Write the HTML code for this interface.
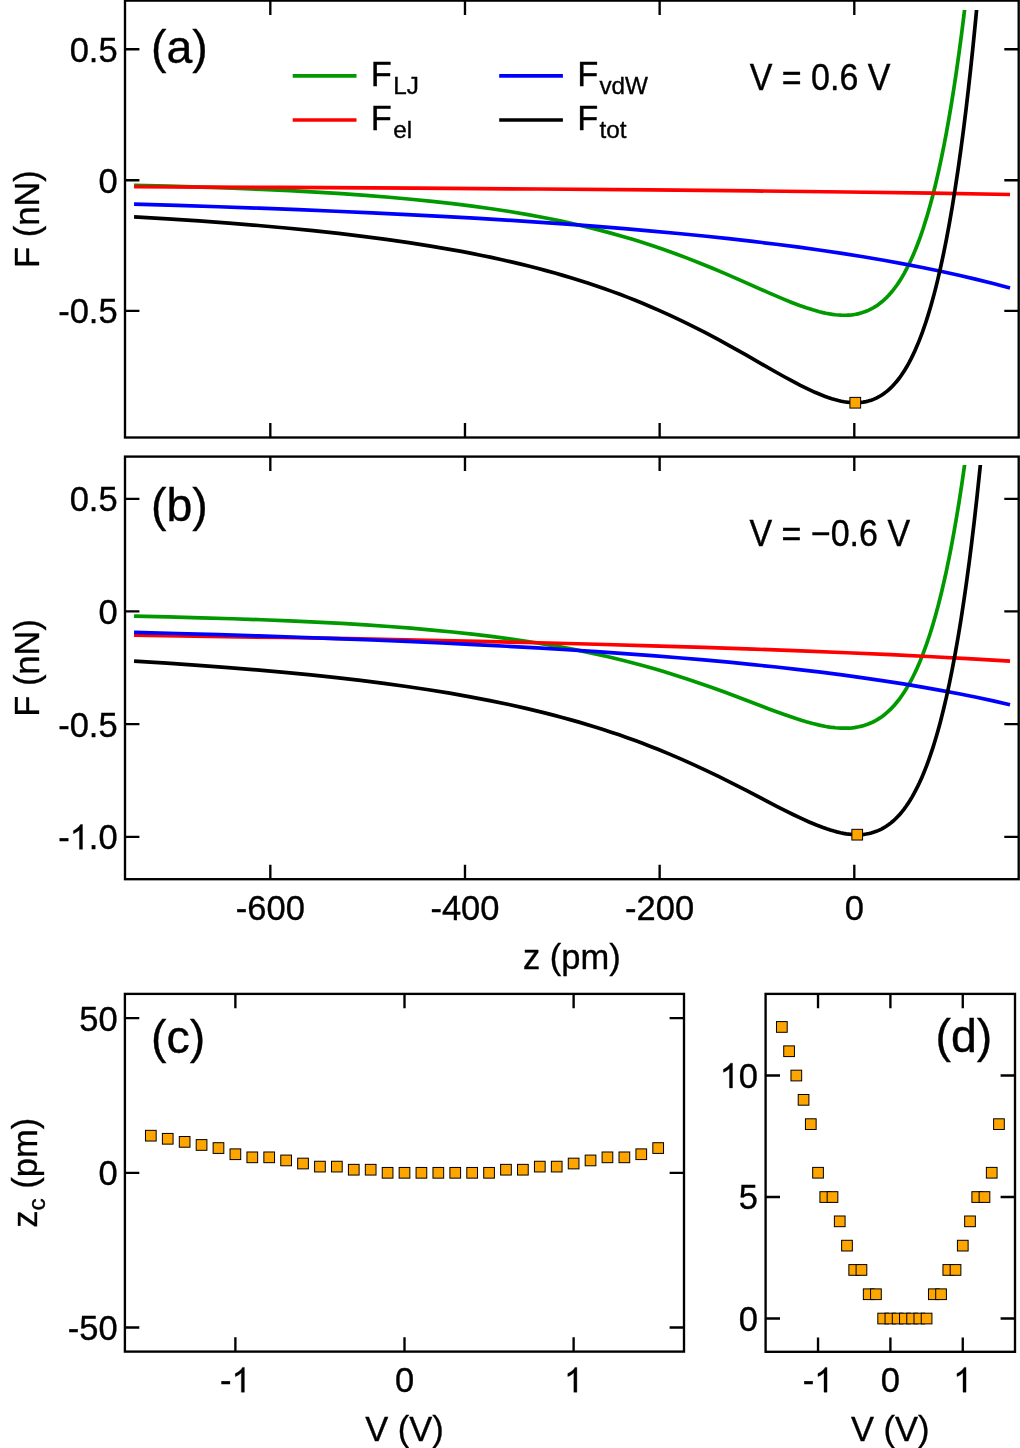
<!DOCTYPE html>
<html><head><meta charset="utf-8"><style>
html,body{margin:0;padding:0;background:#fff;}
svg{display:block;will-change:transform;}
text{font-family:"Liberation Sans", sans-serif;fill:#000;stroke:#000;stroke-width:0.35px;}
</style></head><body>
<svg width="1020" height="1448" viewBox="0 0 1020 1448">
<rect width="1020" height="1448" fill="#fff"/>
<defs>
<clipPath id="ca"><rect x="0" y="9.96" width="1020" height="500"/></clipPath>
<clipPath id="cb"><rect x="0" y="465.08" width="1020" height="500"/></clipPath>
</defs>
<path d="M134.06 185.25 168.40 186.13 201.27 187.11 232.69 188.22 261.91 189.41 289.67 190.72 315.97 192.14 341.54 193.71 365.65 195.40 389.03 197.26 410.95 199.22 432.14 201.35 452.59 203.65 472.32 206.11 491.31 208.74 509.58 211.54 527.84 214.63 544.65 217.75 561.45 221.15 577.52 224.71 592.86 228.39 608.21 232.37 623.55 236.67 631.59 239.05 638.89 241.29 653.50 246.02 664.46 249.77 676.15 253.97 687.84 258.37 699.53 262.96 711.95 268.04 725.83 273.92 738.98 279.65 768.94 292.89 783.55 299.12 792.31 302.66 799.62 305.43 806.20 307.75 812.77 309.85 819.35 311.69 823.00 312.58 825.92 313.22 829.57 313.91 832.50 314.37 835.42 314.74 838.34 315.01 841.26 315.19 844.19 315.25 847.11 315.20 849.30 315.07 852.22 314.79 854.41 314.48 856.61 314.09 858.80 313.61 861.72 312.82 863.91 312.11 866.10 311.30 868.29 310.37 871.22 308.95 873.41 307.75 875.60 306.41 877.79 304.93 879.98 303.30 882.18 301.53 884.37 299.59 886.56 297.49 888.75 295.21 890.94 292.75 893.13 290.10 894.60 288.22 896.79 285.22 898.25 283.10 900.44 279.73 901.90 277.35 904.09 273.58 905.55 270.93 907.75 266.72 909.21 263.77 911.40 259.09 912.86 255.81 915.05 250.63 916.51 247.00 918.71 241.28 920.17 237.27 923.09 228.77 926.74 217.18 929.66 207.08 932.59 196.21 935.51 184.51 938.43 171.93 941.35 158.41 944.28 143.90 946.47 132.32 949.39 115.92 951.58 102.85 953.77 89.08 955.96 74.60 958.89 54.10 961.81 32.17 964.73 8.72 967.65 -16.34 968.38 -17.05" stroke="#009900" stroke-width="3.7" fill="none" clip-path="url(#ca)"/>
<path d="M134.06 186.75 281.64 187.44 416.06 188.19 538.80 189.01 651.31 189.92 753.59 190.91 847.11 192.00 932.59 193.20 1010.03 194.50" stroke="#ff0000" stroke-width="3.7" fill="none" clip-path="url(#ca)"/>
<path d="M134.06 204.06 177.16 205.37 218.81 206.74 258.99 208.18 298.44 209.69 335.70 211.24 372.23 212.88 407.30 214.57 441.63 216.36 474.51 218.20 506.66 220.14 537.34 222.13 567.29 224.22 596.52 226.41 624.28 228.64 652.04 231.04 678.34 233.48 703.91 236.01 728.75 238.65 752.86 241.40 776.24 244.25 798.89 247.20 820.81 250.25 841.99 253.40 863.18 256.77 883.64 260.25 903.36 263.82 922.36 267.50 940.62 271.27 958.89 275.28 976.42 279.38 993.22 283.57 1010.03 288.03" stroke="#0000ff" stroke-width="3.7" fill="none" clip-path="url(#ca)"/>
<path d="M134.06 216.85 167.66 218.87 199.08 220.96 229.03 223.15 258.26 225.52 286.02 227.99 313.05 230.66 338.62 233.43 362.73 236.30 386.11 239.36 408.76 242.61 430.68 246.05 451.13 249.56 461.36 251.43 471.59 253.39 481.82 255.44 491.31 257.42 500.81 259.49 510.31 261.64 519.81 263.89 528.57 266.05 537.34 268.29 546.11 270.63 554.87 273.06 562.91 275.37 571.68 277.98 579.71 280.47 587.75 283.06 595.79 285.73 603.82 288.50 611.86 291.37 619.90 294.34 627.20 297.14 635.24 300.31 642.54 303.29 650.58 306.67 657.89 309.84 669.58 315.11 681.27 320.62 692.95 326.36 705.37 332.71 718.53 339.69 732.41 347.32 745.56 354.73 776.24 372.25 784.28 376.75 791.58 380.73 800.35 385.33 807.66 388.95 814.96 392.32 821.54 395.08 825.19 396.48 828.11 397.52 831.77 398.72 834.69 399.59 838.34 400.55 841.26 401.21 844.19 401.76 847.11 402.19 850.03 402.51 852.95 402.69 855.87 402.73 858.07 402.66 860.99 402.43 863.18 402.14 866.10 401.60 868.29 401.07 871.22 400.18 873.41 399.37 876.33 398.09 878.52 396.98 881.45 395.26 883.64 393.79 885.83 392.16 888.02 390.36 890.21 388.39 892.40 386.22 894.60 383.86 896.79 381.29 898.98 378.51 901.17 375.50 903.36 372.25 904.82 369.95 907.02 366.28 909.21 362.35 911.40 358.13 912.86 355.15 915.05 350.43 916.51 347.10 918.71 341.84 920.17 338.14 922.36 332.30 923.82 328.19 926.01 321.72 927.47 317.18 929.66 310.02 931.12 305.00 934.05 294.37 936.24 285.84 937.70 279.88 940.62 267.27 943.54 253.68 946.47 239.06 949.39 223.34 952.31 206.45 955.23 188.32 958.16 168.87 961.08 148.02 963.27 131.41 966.19 107.90 968.38 89.18 970.58 69.48 972.77 48.77 975.69 19.48 978.61 -11.83 979.34 -17.05" stroke="#000000" stroke-width="3.7" fill="none" clip-path="url(#ca)"/>
<rect x="849.92" y="397.38" width="10.7" height="10.7" fill="#ffa500" stroke="#000" stroke-width="1.0"/>
<path d="M134.06 616.17 168.40 616.92 201.27 617.78 232.69 618.73 261.91 619.75 289.67 620.88 315.97 622.10 341.54 623.46 365.65 624.92 389.03 626.52 410.95 628.21 432.14 630.05 452.59 632.03 472.32 634.15 491.31 636.42 509.58 638.83 527.84 641.49 544.65 644.18 561.45 647.12 577.52 650.18 592.86 653.35 608.21 656.78 623.55 660.49 638.89 664.48 653.50 668.55 664.46 671.78 676.15 675.40 687.84 679.19 699.53 683.15 711.95 687.53 725.83 692.60 738.98 697.54 768.94 708.95 783.55 714.32 792.31 717.37 799.62 719.76 806.20 721.76 812.77 723.57 819.35 725.15 825.92 726.47 829.57 727.06 832.50 727.46 835.42 727.78 838.34 728.02 841.26 728.17 844.19 728.22 847.11 728.18 849.30 728.07 852.22 727.82 854.41 727.56 858.80 726.81 861.72 726.13 863.91 725.52 866.10 724.82 868.29 724.02 871.22 722.80 873.41 721.75 875.60 720.60 877.79 719.32 879.98 717.93 882.18 716.40 884.37 714.73 886.56 712.92 888.75 710.95 890.94 708.83 894.60 704.92 898.25 700.51 900.44 697.60 901.90 695.56 904.09 692.31 905.55 690.02 907.75 686.39 909.21 683.85 911.40 679.82 912.86 676.99 915.05 672.53 916.51 669.40 920.17 661.01 923.09 653.68 926.74 643.69 929.66 634.99 932.59 625.62 935.51 615.53 938.43 604.69 941.35 593.03 944.28 580.52 946.47 570.55 949.39 556.41 951.58 545.14 953.77 533.28 955.96 520.80 958.89 503.13 961.81 484.23 964.73 464.02 967.65 442.41 968.38 441.80" stroke="#009900" stroke-width="3.7" fill="none" clip-path="url(#cb)"/>
<path d="M134.06 635.19 209.31 636.31 281.64 637.49 350.31 638.71 416.06 640.00 478.89 641.35 538.80 642.75 596.52 644.24 651.31 645.79 703.91 647.42 753.59 649.10 801.08 650.87 847.11 652.75 890.94 654.71 932.59 656.75 972.04 658.87 1010.03 661.11" stroke="#ff0000" stroke-width="3.7" fill="none" clip-path="url(#cb)"/>
<path d="M134.06 632.38 177.16 633.51 218.81 634.70 258.99 635.93 298.44 637.24 335.70 638.57 372.23 639.99 407.30 641.45 441.63 642.99 474.51 644.57 506.66 646.25 537.34 647.96 567.29 649.76 596.52 651.65 624.28 653.57 652.04 655.64 678.34 657.74 703.91 659.93 728.75 662.20 752.86 664.57 776.24 667.02 798.89 669.57 820.81 672.20 841.99 674.91 863.18 677.82 883.64 680.81 903.36 683.90 922.36 687.06 940.62 690.31 958.89 693.77 976.42 697.31 993.22 700.92 1010.03 704.76" stroke="#0000ff" stroke-width="3.7" fill="none" clip-path="url(#cb)"/>
<path d="M134.06 661.14 166.93 663.19 198.35 665.34 228.30 667.57 256.80 669.90 284.56 672.37 310.86 674.92 336.43 677.64 360.54 680.42 383.92 683.37 406.57 686.48 428.48 689.75 449.67 693.20 470.13 696.81 489.85 700.59 508.85 704.53 527.11 708.63 544.65 712.87 553.41 715.11 562.18 717.44 570.95 719.85 578.98 722.15 595.06 726.98 603.09 729.52 611.13 732.15 619.17 734.87 627.20 737.68 635.24 740.59 642.54 743.31 650.58 746.40 657.89 749.30 669.58 754.10 681.27 759.12 692.95 764.34 705.37 770.11 718.53 776.45 732.41 783.37 746.29 790.47 777.70 806.77 785.74 810.85 793.04 814.47 801.81 818.65 809.12 821.94 816.42 825.01 823.00 827.53 826.65 828.81 830.30 830.00 833.96 831.08 836.88 831.86 840.53 832.73 843.45 833.32 846.38 833.81 849.30 834.20 852.22 834.48 855.14 834.64 858.07 834.67 860.99 834.57 863.91 834.31 866.10 834.02 869.03 833.48 871.22 832.97 874.14 832.11 876.33 831.34 879.25 830.12 881.45 829.07 884.37 827.45 886.56 826.07 888.75 824.55 890.94 822.87 893.13 821.02 895.33 819.01 897.52 816.81 899.71 814.42 901.90 811.84 904.09 809.05 906.29 806.04 907.75 803.91 909.94 800.52 912.13 796.87 914.32 792.97 915.78 790.22 917.97 785.87 919.44 782.80 921.63 777.94 923.09 774.53 925.28 769.14 926.74 765.36 928.93 759.40 930.39 755.21 932.59 748.62 934.05 744.01 936.97 734.22 939.16 726.38 940.62 720.90 943.54 709.30 946.47 696.81 949.39 683.38 952.31 668.94 955.23 653.43 958.16 636.78 961.08 618.93 964.00 599.79 966.19 584.55 969.12 562.98 971.31 545.80 974.23 521.51 977.15 495.53 980.07 467.76 982.27 445.69 983.00 441.80" stroke="#000000" stroke-width="3.7" fill="none" clip-path="url(#cb)"/>
<rect x="851.87" y="829.33" width="10.7" height="10.7" fill="#ffa500" stroke="#000" stroke-width="1.0"/>
<rect x="125.0" y="0.6" width="893.70" height="436.90" fill="none" stroke="#000" stroke-width="2.35"/>
<rect x="125.0" y="456.6" width="893.70" height="422.60" fill="none" stroke="#000" stroke-width="2.35"/>
<path d="M270.32 0.60v14.4M270.32 437.50v-14.4M464.98 0.60v14.4M464.98 437.50v-14.4M659.64 0.60v14.4M659.64 437.50v-14.4M854.30 0.60v14.4M854.30 437.50v-14.4" stroke="#000" stroke-width="2.35" fill="none"/>
<path d="M270.32 456.60v14.4M270.32 879.20v-14.4M464.98 456.60v14.4M464.98 879.20v-14.4M659.64 456.60v14.4M659.64 879.20v-14.4M854.30 456.60v14.4M854.30 879.20v-14.4" stroke="#000" stroke-width="2.35" fill="none"/>
<path d="M125.00 49.25h14.4M1018.70 49.25h-14.4M125.00 180.20h14.4M1018.70 180.20h-14.4M125.00 310.90h14.4M1018.70 310.90h-14.4" stroke="#000" stroke-width="2.35" fill="none"/>
<path d="M125.00 498.80h14.4M1018.70 498.80h-14.4M125.00 611.30h14.4M1018.70 611.30h-14.4M125.00 724.10h14.4M1018.70 724.10h-14.4M125.00 836.90h14.4M1018.70 836.90h-14.4" stroke="#000" stroke-width="2.35" fill="none"/>
<rect x="124.9" y="993.9" width="559.10" height="357.70" fill="none" stroke="#000" stroke-width="2.35"/>
<rect x="765.6" y="993.9" width="249.40" height="357.90" fill="none" stroke="#000" stroke-width="2.35"/>
<path d="M235.38 993.90v14.4M235.38 1351.60v-14.4M404.50 993.90v14.4M404.50 1351.60v-14.4M573.62 993.90v14.4M573.62 1351.60v-14.4" stroke="#000" stroke-width="2.35" fill="none"/>
<path d="M124.90 1018.15h14.4M684.00 1018.15h-14.4M124.90 1172.80h14.4M684.00 1172.80h-14.4M124.90 1327.45h14.4M684.00 1327.45h-14.4" stroke="#000" stroke-width="2.35" fill="none"/>
<path d="M818.03 993.90v14.4M818.03 1351.80v-14.4M890.40 993.90v14.4M890.40 1351.80v-14.4M962.77 993.90v14.4M962.77 1351.80v-14.4" stroke="#000" stroke-width="2.35" fill="none"/>
<path d="M765.60 1318.54h14.4M1015.00 1318.54h-14.4M765.60 1197.04h14.4M1015.00 1197.04h-14.4M765.60 1075.54h14.4M1015.00 1075.54h-14.4" stroke="#000" stroke-width="2.35" fill="none"/>
<rect x="145.47" y="1130.33" width="10.7" height="10.7" fill="#ffa500" stroke="#000" stroke-width="1.0"/>
<rect x="162.38" y="1133.43" width="10.7" height="10.7" fill="#ffa500" stroke="#000" stroke-width="1.0"/>
<rect x="179.29" y="1136.52" width="10.7" height="10.7" fill="#ffa500" stroke="#000" stroke-width="1.0"/>
<rect x="196.21" y="1139.61" width="10.7" height="10.7" fill="#ffa500" stroke="#000" stroke-width="1.0"/>
<rect x="213.12" y="1142.71" width="10.7" height="10.7" fill="#ffa500" stroke="#000" stroke-width="1.0"/>
<rect x="230.03" y="1148.89" width="10.7" height="10.7" fill="#ffa500" stroke="#000" stroke-width="1.0"/>
<rect x="246.94" y="1151.99" width="10.7" height="10.7" fill="#ffa500" stroke="#000" stroke-width="1.0"/>
<rect x="263.85" y="1151.99" width="10.7" height="10.7" fill="#ffa500" stroke="#000" stroke-width="1.0"/>
<rect x="280.77" y="1155.08" width="10.7" height="10.7" fill="#ffa500" stroke="#000" stroke-width="1.0"/>
<rect x="297.68" y="1158.17" width="10.7" height="10.7" fill="#ffa500" stroke="#000" stroke-width="1.0"/>
<rect x="314.59" y="1161.26" width="10.7" height="10.7" fill="#ffa500" stroke="#000" stroke-width="1.0"/>
<rect x="331.50" y="1161.26" width="10.7" height="10.7" fill="#ffa500" stroke="#000" stroke-width="1.0"/>
<rect x="348.41" y="1164.36" width="10.7" height="10.7" fill="#ffa500" stroke="#000" stroke-width="1.0"/>
<rect x="365.33" y="1164.36" width="10.7" height="10.7" fill="#ffa500" stroke="#000" stroke-width="1.0"/>
<rect x="382.24" y="1167.45" width="10.7" height="10.7" fill="#ffa500" stroke="#000" stroke-width="1.0"/>
<rect x="399.15" y="1167.45" width="10.7" height="10.7" fill="#ffa500" stroke="#000" stroke-width="1.0"/>
<rect x="416.06" y="1167.45" width="10.7" height="10.7" fill="#ffa500" stroke="#000" stroke-width="1.0"/>
<rect x="432.97" y="1167.45" width="10.7" height="10.7" fill="#ffa500" stroke="#000" stroke-width="1.0"/>
<rect x="449.89" y="1167.45" width="10.7" height="10.7" fill="#ffa500" stroke="#000" stroke-width="1.0"/>
<rect x="466.80" y="1167.45" width="10.7" height="10.7" fill="#ffa500" stroke="#000" stroke-width="1.0"/>
<rect x="483.71" y="1167.45" width="10.7" height="10.7" fill="#ffa500" stroke="#000" stroke-width="1.0"/>
<rect x="500.62" y="1164.36" width="10.7" height="10.7" fill="#ffa500" stroke="#000" stroke-width="1.0"/>
<rect x="517.53" y="1164.36" width="10.7" height="10.7" fill="#ffa500" stroke="#000" stroke-width="1.0"/>
<rect x="534.45" y="1161.26" width="10.7" height="10.7" fill="#ffa500" stroke="#000" stroke-width="1.0"/>
<rect x="551.36" y="1161.26" width="10.7" height="10.7" fill="#ffa500" stroke="#000" stroke-width="1.0"/>
<rect x="568.27" y="1158.17" width="10.7" height="10.7" fill="#ffa500" stroke="#000" stroke-width="1.0"/>
<rect x="585.18" y="1155.08" width="10.7" height="10.7" fill="#ffa500" stroke="#000" stroke-width="1.0"/>
<rect x="602.09" y="1151.99" width="10.7" height="10.7" fill="#ffa500" stroke="#000" stroke-width="1.0"/>
<rect x="619.01" y="1151.99" width="10.7" height="10.7" fill="#ffa500" stroke="#000" stroke-width="1.0"/>
<rect x="635.92" y="1148.89" width="10.7" height="10.7" fill="#ffa500" stroke="#000" stroke-width="1.0"/>
<rect x="652.83" y="1142.71" width="10.7" height="10.7" fill="#ffa500" stroke="#000" stroke-width="1.0"/>
<rect x="776.50" y="1021.59" width="10.7" height="10.7" fill="#ffa500" stroke="#000" stroke-width="1.0"/>
<rect x="783.73" y="1045.89" width="10.7" height="10.7" fill="#ffa500" stroke="#000" stroke-width="1.0"/>
<rect x="790.97" y="1070.19" width="10.7" height="10.7" fill="#ffa500" stroke="#000" stroke-width="1.0"/>
<rect x="798.21" y="1094.49" width="10.7" height="10.7" fill="#ffa500" stroke="#000" stroke-width="1.0"/>
<rect x="805.44" y="1118.79" width="10.7" height="10.7" fill="#ffa500" stroke="#000" stroke-width="1.0"/>
<rect x="812.68" y="1167.39" width="10.7" height="10.7" fill="#ffa500" stroke="#000" stroke-width="1.0"/>
<rect x="819.92" y="1191.69" width="10.7" height="10.7" fill="#ffa500" stroke="#000" stroke-width="1.0"/>
<rect x="827.15" y="1191.69" width="10.7" height="10.7" fill="#ffa500" stroke="#000" stroke-width="1.0"/>
<rect x="834.39" y="1215.99" width="10.7" height="10.7" fill="#ffa500" stroke="#000" stroke-width="1.0"/>
<rect x="841.63" y="1240.29" width="10.7" height="10.7" fill="#ffa500" stroke="#000" stroke-width="1.0"/>
<rect x="848.86" y="1264.59" width="10.7" height="10.7" fill="#ffa500" stroke="#000" stroke-width="1.0"/>
<rect x="856.10" y="1264.59" width="10.7" height="10.7" fill="#ffa500" stroke="#000" stroke-width="1.0"/>
<rect x="863.34" y="1288.89" width="10.7" height="10.7" fill="#ffa500" stroke="#000" stroke-width="1.0"/>
<rect x="870.58" y="1288.89" width="10.7" height="10.7" fill="#ffa500" stroke="#000" stroke-width="1.0"/>
<rect x="877.81" y="1313.19" width="10.7" height="10.7" fill="#ffa500" stroke="#000" stroke-width="1.0"/>
<rect x="885.05" y="1313.19" width="10.7" height="10.7" fill="#ffa500" stroke="#000" stroke-width="1.0"/>
<rect x="892.29" y="1313.19" width="10.7" height="10.7" fill="#ffa500" stroke="#000" stroke-width="1.0"/>
<rect x="899.52" y="1313.19" width="10.7" height="10.7" fill="#ffa500" stroke="#000" stroke-width="1.0"/>
<rect x="906.76" y="1313.19" width="10.7" height="10.7" fill="#ffa500" stroke="#000" stroke-width="1.0"/>
<rect x="914.00" y="1313.19" width="10.7" height="10.7" fill="#ffa500" stroke="#000" stroke-width="1.0"/>
<rect x="921.24" y="1313.19" width="10.7" height="10.7" fill="#ffa500" stroke="#000" stroke-width="1.0"/>
<rect x="928.47" y="1288.89" width="10.7" height="10.7" fill="#ffa500" stroke="#000" stroke-width="1.0"/>
<rect x="935.71" y="1288.89" width="10.7" height="10.7" fill="#ffa500" stroke="#000" stroke-width="1.0"/>
<rect x="942.95" y="1264.59" width="10.7" height="10.7" fill="#ffa500" stroke="#000" stroke-width="1.0"/>
<rect x="950.18" y="1264.59" width="10.7" height="10.7" fill="#ffa500" stroke="#000" stroke-width="1.0"/>
<rect x="957.42" y="1240.29" width="10.7" height="10.7" fill="#ffa500" stroke="#000" stroke-width="1.0"/>
<rect x="964.66" y="1215.99" width="10.7" height="10.7" fill="#ffa500" stroke="#000" stroke-width="1.0"/>
<rect x="971.89" y="1191.69" width="10.7" height="10.7" fill="#ffa500" stroke="#000" stroke-width="1.0"/>
<rect x="979.13" y="1191.69" width="10.7" height="10.7" fill="#ffa500" stroke="#000" stroke-width="1.0"/>
<rect x="986.37" y="1167.39" width="10.7" height="10.7" fill="#ffa500" stroke="#000" stroke-width="1.0"/>
<rect x="993.60" y="1118.79" width="10.7" height="10.7" fill="#ffa500" stroke="#000" stroke-width="1.0"/>
<text transform="translate(69.64 61.65) scale(1 1.035)" font-size="34.5">0.5</text>
<text transform="translate(98.42 192.60) scale(1 1.035)" font-size="34.5">0</text>
<text transform="translate(58.16 323.30) scale(1 1.035)" font-size="34.5">-0.5</text>
<text transform="translate(69.64 511.20) scale(1 1.035)" font-size="34.5">0.5</text>
<text transform="translate(98.42 623.70) scale(1 1.035)" font-size="34.5">0</text>
<text transform="translate(58.16 736.50) scale(1 1.035)" font-size="34.5">-0.5</text>
<text transform="translate(58.16 849.30) scale(1 1.035)" font-size="34.5">- .0</text>
<path transform="translate(69.64 849.30) scale(0.01685 -0.01685)" d="M763 0H583V1147Q518 1085 412.5 1023Q307 961 223 930V1104Q374 1175 487 1276Q600 1377 647 1472H763Z" stroke="#000" stroke-width="20.8"/>
<text transform="translate(235.80 920.00) scale(1 1.035)" font-size="34.5">-600</text>
<text transform="translate(430.46 920.00) scale(1 1.035)" font-size="34.5">-400</text>
<text transform="translate(625.12 920.00) scale(1 1.035)" font-size="34.5">-200</text>
<text transform="translate(844.71 920.00) scale(1 1.035)" font-size="34.5">0</text>
<text transform="translate(571.85 968.70) scale(1 0.99)" font-size="34.5" text-anchor="middle">z (pm)</text>
<text transform="translate(79.24 1030.55) scale(1 1.035)" font-size="34.5">50</text>
<text transform="translate(98.42 1185.20) scale(1 1.035)" font-size="34.5">0</text>
<text transform="translate(67.75 1339.85) scale(1 1.035)" font-size="34.5">-50</text>
<text transform="translate(738.82 1330.94) scale(1 1.035)" font-size="34.5">0</text>
<text transform="translate(738.82 1209.44) scale(1 1.035)" font-size="34.5">5</text>
<text transform="translate(719.64 1087.94) scale(1 1.035)" font-size="34.5"> 0</text>
<path transform="translate(719.64 1087.94) scale(0.01685 -0.01685)" d="M763 0H583V1147Q518 1085 412.5 1023Q307 961 223 930V1104Q374 1175 487 1276Q600 1377 647 1472H763Z" stroke="#000" stroke-width="20.8"/>
<text transform="translate(220.04 1392.20) scale(1 1.035)" font-size="34.5">- </text>
<path transform="translate(231.53 1392.20) scale(0.01685 -0.01685)" d="M763 0H583V1147Q518 1085 412.5 1023Q307 961 223 930V1104Q374 1175 487 1276Q600 1377 647 1472H763Z" stroke="#000" stroke-width="20.8"/>
<text transform="translate(394.91 1392.20) scale(1 1.035)" font-size="34.5">0</text>
<text transform="translate(564.03 1392.20) scale(1 1.035)" font-size="34.5"> </text>
<path transform="translate(564.03 1392.20) scale(0.01685 -0.01685)" d="M763 0H583V1147Q518 1085 412.5 1023Q307 961 223 930V1104Q374 1175 487 1276Q600 1377 647 1472H763Z" stroke="#000" stroke-width="20.8"/>
<text transform="translate(802.69 1392.20) scale(1 1.035)" font-size="34.5">- </text>
<path transform="translate(814.18 1392.20) scale(0.01685 -0.01685)" d="M763 0H583V1147Q518 1085 412.5 1023Q307 961 223 930V1104Q374 1175 487 1276Q600 1377 647 1472H763Z" stroke="#000" stroke-width="20.8"/>
<text transform="translate(880.81 1392.20) scale(1 1.035)" font-size="34.5">0</text>
<text transform="translate(953.18 1392.20) scale(1 1.035)" font-size="34.5"> </text>
<path transform="translate(953.18 1392.20) scale(0.01685 -0.01685)" d="M763 0H583V1147Q518 1085 412.5 1023Q307 961 223 930V1104Q374 1175 487 1276Q600 1377 647 1472H763Z" stroke="#000" stroke-width="20.8"/>
<text transform="translate(404.45 1440.80) scale(1 1.02)" font-size="34.5" text-anchor="middle">V (V)</text>
<text transform="translate(890.30 1440.80) scale(1 1.02)" font-size="34.5" text-anchor="middle">V (V)</text>
<text transform="translate(38.70 219.05) rotate(-90)" font-size="34.5" text-anchor="middle">F (nN)</text>
<text transform="translate(38.70 667.90) rotate(-90)" font-size="34.5" text-anchor="middle">F (nN)</text>
<text transform="translate(36.80 1172.75) rotate(-90)" font-size="34.5" text-anchor="middle">z<tspan font-size="24.3" dy="8.5">c</tspan><tspan dy="-8.5"> (pm)</tspan></text>
<text transform="translate(151.00 63.20) scale(1 1.0)" font-size="46.5" text-anchor="start">(a)</text>
<text transform="translate(151.00 520.70) scale(1 1.0)" font-size="46.5" text-anchor="start">(b)</text>
<text transform="translate(151.00 1052.80) scale(1 1.0)" font-size="46.5" text-anchor="start">(c)</text>
<text transform="translate(935.52 1052.00) scale(1 1.0)" font-size="46.5" text-anchor="start">(d)</text>
<line x1="292.7" y1="75.8" x2="356.5" y2="75.8" stroke="#009900" stroke-width="3.7"/>
<line x1="292.7" y1="120.0" x2="356.5" y2="120.0" stroke="#ff0000" stroke-width="3.7"/>
<line x1="499.2" y1="75.8" x2="562.9" y2="75.8" stroke="#0000ff" stroke-width="3.7"/>
<line x1="499.2" y1="120.0" x2="562.9" y2="120.0" stroke="#000000" stroke-width="3.7"/>
<text transform="translate(370.87 86.30) scale(1 1.02)" font-size="34.5">F<tspan font-size="24.3" dx="1.2" dy="7.55">LJ</tspan></text>
<text transform="translate(370.87 130.40) scale(1 1.02)" font-size="34.5">F<tspan font-size="24.3" dx="1.2" dy="7.55">el</tspan></text>
<text transform="translate(577.17 86.30) scale(1 1.02)" font-size="34.5">F<tspan font-size="24.3" dx="1.2" dy="7.55">vdW</tspan></text>
<text transform="translate(577.17 130.40) scale(1 1.02)" font-size="34.5">F<tspan font-size="24.3" dx="1.2" dy="7.55">tot</tspan></text>
<text transform="translate(749.65 90.00) scale(1 1.09)" font-size="34" text-anchor="start">V = 0.6 V</text>
<text transform="translate(749.45 545.60) scale(1 1.09)" font-size="34" text-anchor="start">V = −0.6 V</text>
</svg></body></html>
